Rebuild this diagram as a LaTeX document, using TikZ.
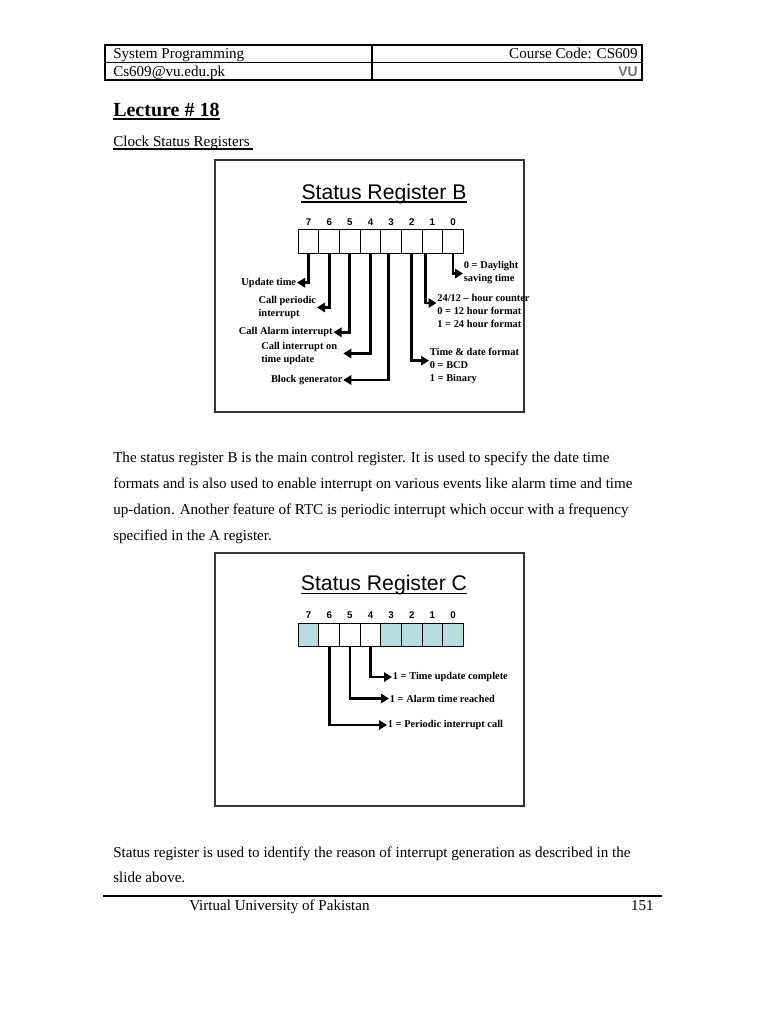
\documentclass[tikz,border=0pt]{standalone}
\usepackage{fontspec}
\setmainfont{Liberation Serif}
\setsansfont{Liberation Sans}
\usetikzlibrary{arrows.meta,calc}
\definecolor{cellfill}{HTML}{B8DDE0}
\begin{document}
\begin{tikzpicture}[x=0.75pt,y=-0.75pt,
  body/.style={font=\fontsize{11.3}{13.6}\selectfont, anchor=base west, inner sep=0},
  cell/.style={draw, line width=0.75pt, minimum width=15.47pt, minimum height=18pt, inner sep=0, outer sep=0},
  bitno/.style={font=\sffamily\bfseries\fontsize{7.3}{8}\selectfont, anchor=base, inner sep=0},
  lab/.style={font=\bfseries\fontsize{7.8}{10}\selectfont, inner sep=0.5pt, align=left},
  arr/.style={line width=2.2pt, line join=miter, -{Triangle[length=6pt,width=7pt]}},
  stitle/.style={font=\sffamily\fontsize{15.9}{18}\selectfont, anchor=base, inner sep=0},
  frame/.style={draw=black!80, line width=0.9pt}
]
\useasboundingbox[fill=white] (0,0) rectangle (768,1024);

% header table
\draw[line width=1.1pt] (105,45) rectangle (642,80);
\draw[line width=1.1pt] (105,62.5) -- (642,62.5);
\draw[line width=1.1pt] (372,45) -- (372,80);
\node[body] (h1) at (113,59) {System Programming};
\node[body] (h2) at (113,77) {Cs609@vu.edu.pk};
\node[body, anchor=base east] (h3) at (638,59) {Course Code: CS609};
\node[font=\sffamily\bfseries\fontsize{10.5}{11}\selectfont, text=black!55, anchor=base east, inner sep=0] (vu) at (638,76) {VU};

% headings
\node[body, font=\bfseries\fontsize{15}{18}\selectfont] (lec) at (113,116) {Lecture \# 18};
\draw[line width=1.1pt] ($(lec.base west)+(0,3)$) -- ($(lec.base east)+(0,3)$);
\node[body] (clk) at (113,146) {Clock Status Registers};
\draw[line width=0.8pt] ($(clk.base west)+(0,3)$) -- ($(clk.base east)+(3,3)$);

% ---------- Slide B ----------
\draw[frame] (215,160) rectangle (524,412);
\node[stitle] (tb) at (384,199) {Status Register B};
\draw[line width=0.8pt] ($(tb.base west)+(0,3)$) -- ($(tb.base east)+(0,3)$);
\foreach \i in {7,6,5,4,3,2,1,0}{
  \pgfmathsetmacro\xx{308.6+20.625*(7-\i)}
  \node[cell] (b\i) at (\xx,241) {};
  \node[bitno] (nb\i) at (\xx,225) {\i};
}
\node[lab, anchor=east] (lb7) at (297,282.7) {Update time};
\node[lab, anchor=east] (lb6) at (317,307.5) {Call periodic\\interrupt};
\node[lab, anchor=east] (lb5) at (333.5,332.3) {Call Alarm interrupt};
\node[lab, anchor=east] (lb4) at (338,353.5) {Call interrupt on\\time update};
\node[lab, anchor=east] (lb3) at (343.3,380) {Block generator};
\node[lab, anchor=west] (lb2) at (429,366) {Time \& date format\\0 = BCD\\1 = Binary};
\node[lab, anchor=west] (lb1) at (436.5,311) {24/12 -- hour counter\\0 = 12 hour format\\1 = 24 hour format};
\node[lab, anchor=west] (lb0) at (463,272.5) {0 = Daylight\\saving time};

\draw[arr] (b7.south) |- (lb7.east);
\draw[arr] (b6.south) |- (lb6.east);
\draw[arr] (b5.south) |- (lb5.east);
\draw[arr] (b4.south) |- ([xshift=4pt]lb4.east);
\draw[arr] ($(b3.south)+(-3,0)$) |- (lb3.east);
\draw[arr] (b2.south) |- ([yshift=4pt]lb2.west);
\draw[arr] ($(b1.south)+(-6.5,0)$) |- ([yshift=6pt]lb1.west);
\draw[arr] (b0.south) |- ([yshift=-0.75pt]lb0.west);

% paragraph 1
\node[body] (p1) at (113,462) {The status register B is the main control register. It is used to specify the date time};
\node[body] (p2) at (113,488) {formats and is also used to enable interrupt on various events like alarm time and time};
\node[body] (p3) at (113,514) {up-dation. Another feature of RTC is periodic interrupt which occur with a frequency};
\node[body] (p4) at (113,540) {specified in the A register.};

% ---------- Slide C ----------
\draw[frame] (215,553) rectangle (524,806);
\node[stitle] (tc) at (384,590) {Status Register C};
\draw[line width=0.8pt] ($(tc.base west)+(0,3.5)$) -- ($(tc.base east)+(0,3.5)$);
\foreach \i/\f in {7/cellfill,6/white,5/white,4/white,3/cellfill,2/cellfill,1/cellfill,0/cellfill}{
  \pgfmathsetmacro\xx{308.6+20.625*(7-\i)}
  \node[cell, fill=\f, minimum height=17.5pt] (c\i) at (\xx,635) {};
  \node[bitno] (nc\i) at (\xx,618) {\i};
}
\node[lab, anchor=west] (lc4) at (392,677) {1 = Time update complete};
\node[lab, anchor=west] (lc5) at (389,698.5) {1 = Alarm time reached};
\node[lab, anchor=west] (lc6) at (387,725) {1 = Periodic interrupt call};
\draw[arr, line width=2pt] (c4.south) |- (lc4.west);
\draw[arr, line width=2pt] (c5.south) |- (lc5.west);
\draw[arr, line width=2pt] (c6.south) |- (lc6.west);

% paragraph 2
\node[body] (q1) at (113,857) {Status register is used to identify the reason of interrupt generation as described in the};
\node[body] (q2) at (113,882) {slide above.};

% footer
\draw[line width=1.5pt] (103,895.7) -- (662,895.7);
\node[body] (f1) at (189,910) {Virtual University of Pakistan};
\node[body, anchor=base east] (f2) at (654,910) {151};
\end{tikzpicture}
\end{document}
